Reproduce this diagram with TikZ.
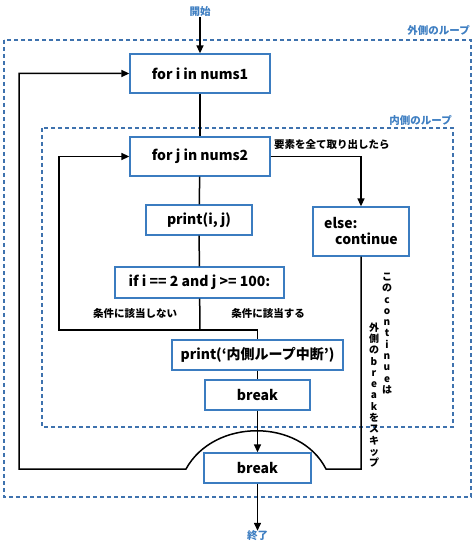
\documentclass[tikz,border=0pt]{standalone}
\usepackage{fontspec}
\setmainfont{Noto Sans CJK JP}
\usetikzlibrary{arrows.meta}
\definecolor{boxblue}{HTML}{3B7CC0}
\definecolor{dashblue}{HTML}{3E72AE}
\definecolor{labblue}{HTML}{3F7FC2}
\begin{document}
\begin{tikzpicture}[x=1pt,y=-1pt,
  box/.style={draw=boxblue, line width=1.3pt, fill=white, inner sep=0pt,
    font=\fontsize{14}{16}\selectfont\bfseries},
  conn/.style={line width=1.5pt, black},
  arr/.style={conn, -{Triangle[length=8pt,width=7pt]}},
  lab/.style={font=\fontsize{10.5}{12}\selectfont\bfseries, inner sep=0pt},
  blab/.style={lab, text=labblue},
  vtext/.style={font=\fontsize{10}{11.3}\selectfont\bfseries, align=center, inner sep=0pt},
  dashbox/.style={draw=dashblue, line width=1.3pt, dash pattern=on 4pt off 3pt}]
\useasboundingbox (0,0) rectangle (474,548);
% loop frames
\draw[dashbox] (4,40) rectangle (471,497);
\draw[dashbox] (42,128) rectangle (453,427);
\node[blab, anchor=east] (outerlab) at (470,30) {外側のループ};
\node[blab, anchor=east] (innerlab) at (452,120) {内側のループ};
% boxes
\node[box, minimum width=140pt, minimum height=39pt] (fori) at (200,73.5) {for i in nums1};
\node[box, minimum width=140pt, minimum height=39pt] (forj) at (200,156.5) {for j in nums2};
\node[box, minimum width=106pt, minimum height=30pt] (p1) at (199,220) {print(i, j)};
\node[box, minimum width=169pt, minimum height=31pt] (cond) at (199.5,282.5) {if i == 2 and j >= 100:};
\node[box, minimum width=96pt, minimum height=49pt, align=left] (els) at (361,231.5) {else:\\\hspace*{11pt}continue};
\node[box, minimum width=171pt, minimum height=30pt] (p2) at (257.5,355) {print(‘内側ループ中断’)};
\node[box, minimum width=105pt, minimum height=30pt] (brk1) at (257.5,395) {break};
% start / end
\node[blab] (start) at (200,12) {開始};
\node[blab] (fin) at (257.5,536) {終了};
% labels
\node[lab, anchor=west] (alllab) at (274,145) {要素を全て取り出したら};
\node[lab] (nolab) at (135,314) {条件に該当しない};
\node[lab] (yeslab) at (268,314) {条件に該当する};
\node[vtext] (v1) at (387,333.5) {こ\\の\\c\\o\\n\\t\\i\\n\\u\\e\\は};
\node[vtext] (v2) at (374,395) {外\\側\\の\\b\\r\\e\\a\\k\\を\\ス\\キ\\ッ\\プ};
% coordinates
\coordinate (j1) at (200,330);
\coordinate (jl) at (59,330);
\coordinate (jr) at (257.5,330);
\coordinate (o1) at (361,469);
\coordinate (o2) at (326,469);
\coordinate (o3) at (186,469);
\coordinate (o4) at (19,469);
% connectors
\draw[arr] (start) -- (fori);
\draw[conn] (fori) -- (forj);
\draw[conn] (forj) -- (p1);
\draw[conn] (p1) -- (cond);
\draw[conn] (cond) -- (j1);
\draw[arr] (j1) -- (jl) -- (jl |- forj.west) -- (forj.west);
\draw[conn] (j1) -- (jr) -- (p2.north);
\draw[conn] (p2) -- (brk1);
\draw[arr] (forj.east) -- (forj.east -| els.north) -- (els.north);
\draw[arr] (els.south) -- (o1) -- (o2) .. controls (300,418) and (214,418) .. (o3) -- (o4) -- (o4 |- fori.west) -- (fori.west);
\node[box, minimum width=107pt, minimum height=30pt] (brk2) at (257.5,468) {break};
\draw[arr] (brk1) -- (brk2);
\draw[arr] (brk2) -- (fin);
\end{tikzpicture}
\end{document}
